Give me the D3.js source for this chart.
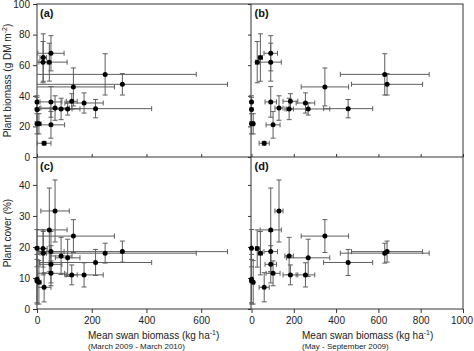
<!DOCTYPE html>
<html>
<head>
<meta charset="utf-8">
<script src="https://cdn.jsdelivr.net/npm/d3@7"></script>
<style>
  body { margin: 0; background: #fff; }
  svg { display: block; font-family: Arial, "Liberation Sans", sans-serif; }
</style>
</head>
<body>
<svg id="chart" width="474" height="351"></svg>
<script>
// Mean swan biomass, March 2009 - March 2010 (panels a, c), with SE
const swanYear    = [51, 23, 22, 45, 249, 312, 133, 51, 0, 127, 172, 0, 66, 88, 112, 214, 0, 7, 51, 26];
const swanYearErr = [48, 12, 15, 65, 333, 384, 150, 40, 4, 20, 70, 5, 52, 40, 45, 205, 4, 8, 50, 25];
// Mean swan biomass, May - September 2009 (panels b, d), with SE
const swanSummer    = [91, 42, 27, 91, 630, 641, 347, 91, 0, 184, 255, 0, 130, 178, 268, 457, 0, 8, 102, 60];
const swanSummerErr = [32, 10, 8, 50, 210, 168, 112, 27, 3, 35, 44, 3, 19, 20, 102, 116, 3, 5, 33, 24];
// Plant biomass (g DM m-2) and plant cover (%), with SE
const biomass    = [67.8, 65, 62, 62, 54, 47.5, 45.8, 36, 36, 36.4, 35.3, 31, 32, 31.4, 31.4, 31.6, 21.7, 21.7, 21, 9];
const biomassErr = [11.5, 15.5, 13.5, 12.4, 13.5, 7, 12.4, 10, 4, 5, 6.6, 8, 8, 7, 4, 6, 6.6, 6.6, 8.7, 1.2];
const cover    = [18.5, 18, 19.5, 25.5, 18, 18.5, 23.5, 14.4, 19.6, 11, 11, 9.6, 31.6, 17.1, 16.5, 15, 9, 8.6, 11.5, 7];
const coverErr = [6.5, 7, 6, 13.5, 3.2, 3.4, 5.3, 6, 6, 3.2, 3.9, 8, 10, 6, 6, 4.2, 7, 7, 4, 4.7];

const bioTicks = [0, 20, 40, 60, 80, 100];
const coverTicks = [0, 10, 20, 30, 40];
const yearTicks = [0, 200, 400, 600];
const summerTicks = [0, 200, 400, 600, 800, 1000];

const svg = d3.select("#chart");

// frame geometry
const frame = { left: 37, mid: 251, right: 463, top: 4, midY: 157, bottom: 309 };

const xYear = d3.scaleLinear().domain([0, 782]).range([frame.left, frame.mid]);
const xSummer = d3.scaleLinear().domain([0, 1000]).range([frame.mid + 0.5, frame.right]);
const yBio = d3.scaleLinear().domain([0, 100]).range([frame.midY, frame.top]);
const yCov = d3.scaleLinear().domain([0, 49]).range([frame.bottom, frame.midY]);

const axisColor = "#333";
const barColor = "#5e5e5e";
const fmt = d3.format("d");

// axes
function styleAxis(g) {
  g.select(".domain").remove();
  g.selectAll("line").attr("stroke", axisColor);
  g.selectAll("text").attr("fill", "#222").style("font-size", "10px");
}

svg.append("g").attr("transform", `translate(${frame.left},0)`)
  .call(d3.axisLeft(yBio).tickValues(bioTicks).tickSize(4).tickPadding(3).tickFormat(fmt))
  .call(styleAxis);
svg.append("g").attr("transform", `translate(${frame.left},0)`)
  .call(d3.axisLeft(yCov).tickValues(coverTicks).tickSize(4).tickPadding(3).tickFormat(fmt))
  .call(styleAxis);
svg.append("g").attr("transform", `translate(${frame.mid},0)`)
  .call(d3.axisLeft(yBio).tickValues(bioTicks).tickSize(3).tickFormat(""))
  .call(styleAxis);
svg.append("g").attr("transform", `translate(${frame.mid},0)`)
  .call(d3.axisLeft(yCov).tickValues(coverTicks).tickSize(3).tickFormat(""))
  .call(styleAxis);

svg.append("g").attr("transform", `translate(0,${frame.bottom})`)
  .call(d3.axisBottom(xYear).tickValues(yearTicks).tickSize(4).tickPadding(4).tickFormat(fmt))
  .call(styleAxis);
const summerAxis = svg.append("g").attr("transform", `translate(0,${frame.bottom})`)
  .call(d3.axisBottom(xSummer).tickValues(summerTicks).tickSize(4).tickPadding(4).tickFormat(fmt))
  .call(styleAxis);
// keep the last label inside the window
summerAxis.selectAll(".tick text").filter((d) => d === 1000).attr("dx", "-1.5");

svg.append("g").attr("transform", `translate(0,${frame.midY})`)
  .call(d3.axisBottom(xYear).tickValues(yearTicks).tickSize(-3).tickFormat(""))
  .call(styleAxis);
svg.append("g").attr("transform", `translate(0,${frame.midY})`)
  .call(d3.axisBottom(xSummer).tickValues(summerTicks).tickSize(-3).tickFormat(""))
  .call(styleAxis);

// frame and dividers
svg.append("rect")
  .attr("x", frame.left).attr("y", frame.top)
  .attr("width", frame.right - frame.left).attr("height", frame.bottom - frame.top)
  .attr("fill", "none").attr("stroke", axisColor).attr("stroke-width", 1);
svg.append("line")
  .attr("x1", frame.mid).attr("x2", frame.mid).attr("y1", frame.top).attr("y2", frame.bottom)
  .attr("stroke", axisColor);
svg.append("line")
  .attr("x1", frame.left).attr("x2", frame.right).attr("y1", frame.midY).attr("y2", frame.midY)
  .attr("stroke", axisColor);

// panels
const panels = [
  { label: "(a)", x: xYear, y: yBio, xv: swanYear, xe: swanYearErr, yv: biomass, ye: biomassErr },
  { label: "(b)", x: xSummer, y: yBio, xv: swanSummer, xe: swanSummerErr, yv: biomass, ye: biomassErr },
  { label: "(c)", x: xYear, y: yCov, xv: swanYear, xe: swanYearErr, yv: cover, ye: coverErr },
  { label: "(d)", x: xSummer, y: yCov, xv: swanSummer, xe: swanSummerErr, yv: cover, ye: coverErr }
];

const cap = 2.5;

panels.forEach((p) => {
  const g = svg.append("g");
  const idx = d3.range(p.xv.length);
  const x0 = p.x.domain()[0];
  const y0 = p.y.domain()[0];

  // horizontal error bars
  idx.forEach((i) => {
    const lo = Math.max(x0, p.xv[i] - p.xe[i]);
    const hi = p.xv[i] + p.xe[i];
    const yy = p.y(p.yv[i]);
    g.append("line")
      .attr("x1", p.x(lo)).attr("x2", p.x(hi)).attr("y1", yy).attr("y2", yy)
      .attr("stroke", barColor).attr("stroke-width", 1);
    g.append("line")
      .attr("x1", p.x(hi)).attr("x2", p.x(hi)).attr("y1", yy - cap).attr("y2", yy + cap)
      .attr("stroke", barColor);
    if (p.xv[i] - p.xe[i] > x0) {
      g.append("line")
        .attr("x1", p.x(lo)).attr("x2", p.x(lo)).attr("y1", yy - cap).attr("y2", yy + cap)
        .attr("stroke", barColor);
    }
  });

  // vertical error bars
  idx.forEach((i) => {
    const lo = Math.max(y0, p.yv[i] - p.ye[i]);
    const hi = p.yv[i] + p.ye[i];
    const xx = p.x(p.xv[i]);
    g.append("line")
      .attr("x1", xx).attr("x2", xx).attr("y1", p.y(lo)).attr("y2", p.y(hi))
      .attr("stroke", barColor).attr("stroke-width", 1);
    [lo, hi].forEach((v) => {
      g.append("line")
        .attr("x1", xx - cap).attr("x2", xx + cap).attr("y1", p.y(v)).attr("y2", p.y(v))
        .attr("stroke", barColor);
    });
  });

  // points
  g.selectAll("circle")
    .data(idx)
    .enter()
    .append("circle")
    .attr("cx", (i) => p.x(p.xv[i]))
    .attr("cy", (i) => p.y(p.yv[i]))
    .attr("r", 2.5)
    .attr("fill", "#000");

  // panel label
  g.append("text")
    .attr("x", p.x.range()[0] + 3)
    .attr("y", p.y.range()[1] + 13)
    .attr("font-size", "11px")
    .attr("font-weight", "bold")
    .attr("fill", "#111")
    .text(p.label);
});

// axis titles
const yTitle1 = svg.append("text")
  .attr("transform", `translate(11,${(frame.top + frame.midY) / 2}) rotate(-90)`)
  .attr("text-anchor", "middle")
  .attr("font-size", "10px")
  .attr("fill", "#222");
yTitle1.append("tspan").text("Plant biomass (g DM m");
yTitle1.append("tspan").attr("dy", -4).attr("font-size", "7px").text("-2");
yTitle1.append("tspan").attr("dy", 4).text(")");

svg.append("text")
  .attr("transform", `translate(11,${(frame.midY + frame.bottom) / 2}) rotate(-90)`)
  .attr("text-anchor", "middle")
  .attr("font-size", "10px")
  .attr("fill", "#222")
  .text("Plant cover (%)");

function xTitle(x, sub) {
  const t = svg.append("text")
    .attr("x", x).attr("y", 339)
    .attr("font-size", "10px")
    .attr("fill", "#222");
  t.append("tspan").text("Mean swan biomass (kg ha");
  t.append("tspan").attr("dy", -4).attr("font-size", "7px").text("-1");
  t.append("tspan").attr("dy", 4).text(")");
  svg.append("text")
    .attr("x", x).attr("y", 349)
    .attr("font-size", "8px")
    .attr("fill", "#222")
    .text(sub);
}
xTitle(88, "(March 2009 - March 2010)");
xTitle(302, "(May - September 2009)");
</script>
</body>
</html>
